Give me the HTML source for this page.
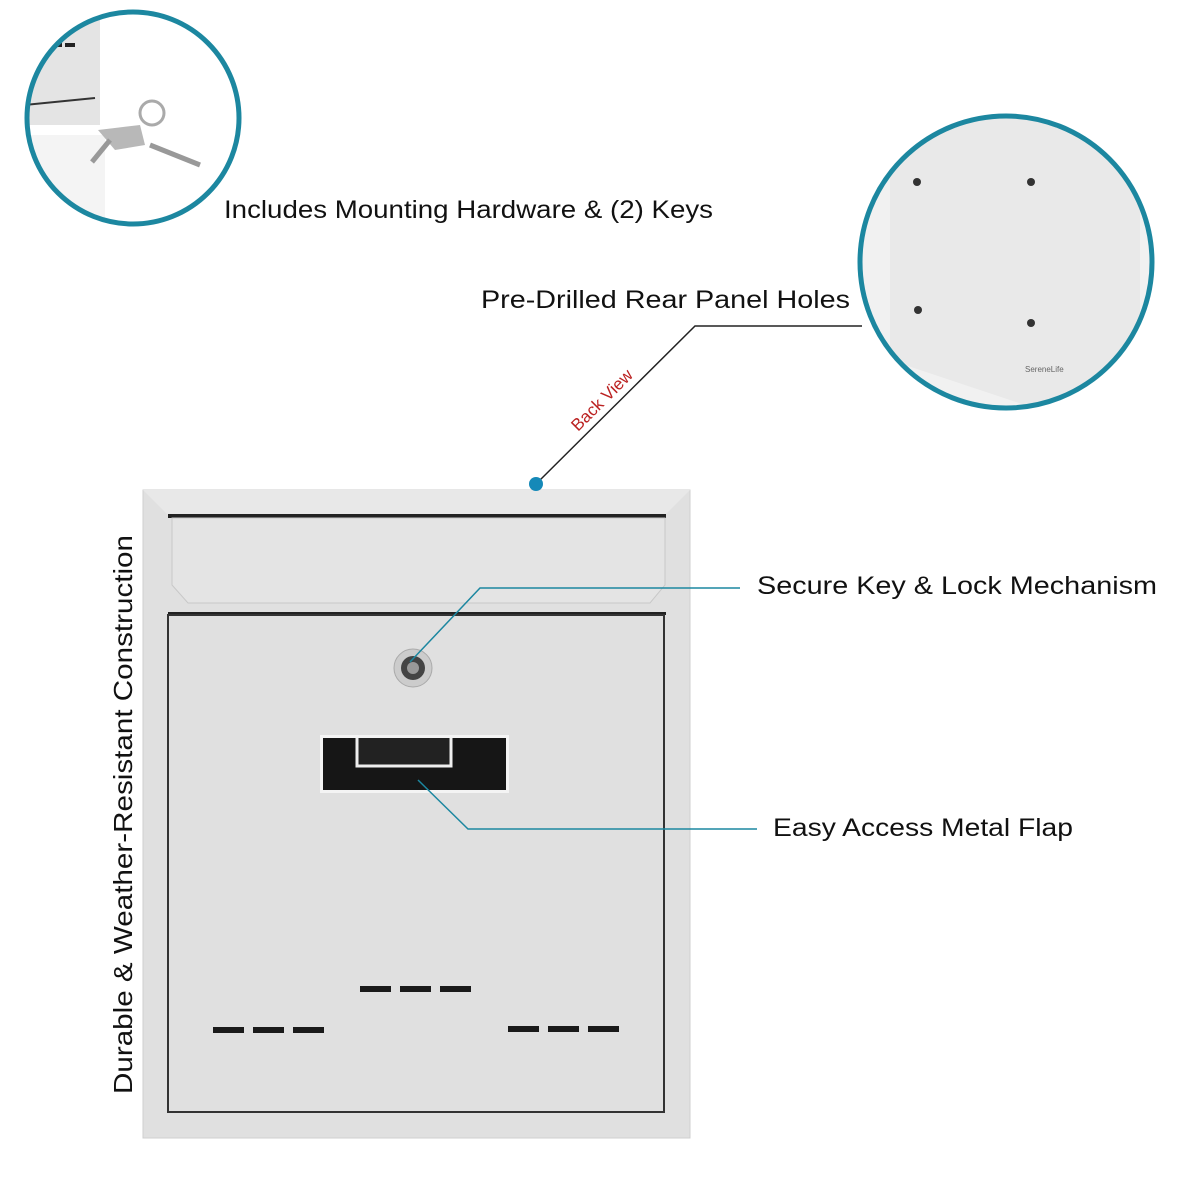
<!DOCTYPE html>
<html><head><style>body{margin:0;background:#fff}svg{display:block}</style></head><body>
<svg width="1200" height="1200" viewBox="0 0 1200 1200" xmlns="http://www.w3.org/2000/svg" font-family="Liberation Sans, sans-serif">
<defs><clipPath id="c1"><circle cx="133" cy="118" r="106"/></clipPath><clipPath id="c2"><circle cx="1006" cy="262" r="146"/></clipPath></defs>
<g clip-path="url(#c1)">
<rect x="0" y="0" width="300" height="300" fill="#fff"/>
<rect x="0" y="0" width="100" height="125" fill="#e4e4e4"/>
<line x1="25" y1="105" x2="95" y2="98" stroke="#333" stroke-width="2"/>
<rect x="52" y="43" width="10" height="4" fill="#222"/><rect x="65" y="43" width="10" height="4" fill="#222"/>
<rect x="0" y="135" width="105" height="120" fill="#f4f4f4"/>
<circle cx="152" cy="113" r="12" fill="none" stroke="#aaa" stroke-width="3"/>
<path d="M98 130 L140 125 L145 145 L115 150Z" fill="#b8b8b8"/>
<line x1="110" y1="140" x2="92" y2="162" stroke="#999" stroke-width="5"/>
<line x1="150" y1="145" x2="200" y2="165" stroke="#999" stroke-width="5"/>
</g>
<circle cx="133" cy="118" r="106" fill="none" stroke="#1c87a0" stroke-width="5"/>
<g clip-path="url(#c2)">
<rect x="850" y="110" width="320" height="310" fill="#f1f1f1"/>
<path d="M890 110 L1030 110 L1140 130 L1140 420 L1070 420 L890 360Z" fill="#e9e9e9"/>
<circle cx="917" cy="182" r="4" fill="#333"/><circle cx="1031" cy="182" r="4" fill="#333"/>
<circle cx="918" cy="310" r="4" fill="#333"/><circle cx="1031" cy="323" r="4" fill="#333"/>
<text x="1025" y="372" font-size="8" fill="#666">SereneLife</text>
</g>
<circle cx="1006" cy="262" r="146" fill="none" stroke="#1c87a0" stroke-width="5"/>
<text x="224" y="218" font-size="25" fill="#111" textLength="489" lengthAdjust="spacingAndGlyphs">Includes Mounting Hardware &amp; (2) Keys</text>
<text x="481" y="308" font-size="25" fill="#111" textLength="369" lengthAdjust="spacingAndGlyphs">Pre-Drilled Rear Panel Holes</text>
<text x="757" y="594" font-size="25" fill="#111" textLength="400" lengthAdjust="spacingAndGlyphs">Secure Key &amp; Lock Mechanism</text>
<text x="773" y="836" font-size="25" fill="#111" textLength="300" lengthAdjust="spacingAndGlyphs">Easy Access Metal Flap</text>
<text transform="translate(132,1094) rotate(-90)" font-size="26" fill="#111" textLength="559" lengthAdjust="spacingAndGlyphs">Durable &amp; Weather-Resistant Construction</text>
<text transform="translate(578,432) rotate(-45)" font-size="17" fill="#b22">Back View</text>
<rect x="143" y="490" width="547" height="648" fill="#e0e0e0" stroke="#cfcfcf"/>
<path d="M143 490 L168 515 L665 515 L690 490Z" fill="#e8e8e8"/>
<rect x="168" y="514" width="498" height="4" fill="#222"/>
<path d="M172 518 L665 518 L665 585 L650 603 L188 603 L172 585Z" fill="#e4e4e4" stroke="#c8c8c8"/>
<rect x="168" y="612" width="498" height="3" fill="#222"/>
<rect x="168" y="615" width="496" height="497" fill="#e0e0e0" stroke="#333" stroke-width="2"/>
<circle cx="413" cy="668" r="19" fill="#ccc" stroke="#aaa"/><circle cx="413" cy="668" r="12" fill="#444"/><circle cx="413" cy="668" r="6" fill="#999"/>
<rect x="320" y="735" width="189" height="58" fill="#f4f4f4"/>
<rect x="323" y="738" width="183" height="52" fill="#161616"/>
<path d="M357 738 L357 766 L451 766 L451 738" fill="#222" stroke="#eee" stroke-width="3"/>
<g fill="#1a1a1a">
<rect x="360" y="986" width="31" height="6"/><rect x="400" y="986" width="31" height="6"/><rect x="440" y="986" width="31" height="6"/>
<rect x="213" y="1027" width="31" height="6"/><rect x="253" y="1027" width="31" height="6"/><rect x="293" y="1027" width="31" height="6"/>
<rect x="508" y="1026" width="31" height="6"/><rect x="548" y="1026" width="31" height="6"/><rect x="588" y="1026" width="31" height="6"/>
</g>
<polyline points="536,484 695,326 862,326" fill="none" stroke="#222" stroke-width="1.5"/>
<circle cx="536" cy="484" r="7" fill="#1589b8"/>
<polyline points="410,662 480,588 740,588" fill="none" stroke="#1c87a0" stroke-width="1.5"/>
<polyline points="418,780 468,829 757,829" fill="none" stroke="#1c87a0" stroke-width="1.5"/>
</svg>
</body></html>
